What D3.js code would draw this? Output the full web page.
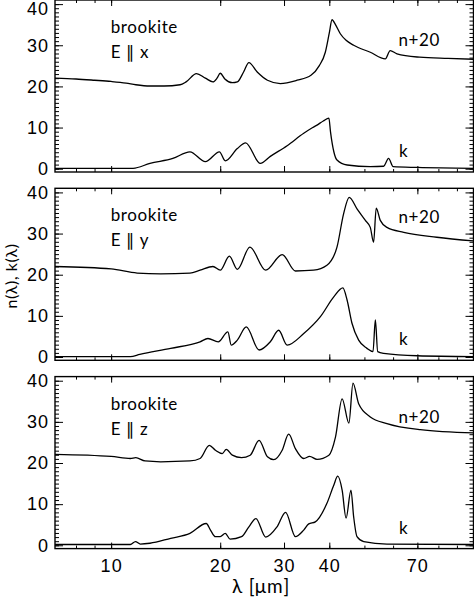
<!DOCTYPE html>
<html>
<head>
<meta charset="utf-8">
<script src="https://cdn.jsdelivr.net/npm/d3@7"></script>
<style>
  body { margin: 0; background: #fff; }
  svg { display: block; font-family: Lato, "DejaVu Sans", sans-serif; }
  .tick line { stroke: #000; stroke-width: 1; }
</style>
</head>
<body>
<div id="chart"></div>
<script>
// curves: [lambda (um), value]
const nX = [[7.0,22.0],[8,21.8],[9,21.5],[10,21.2],[11,20.8],[11.7,20.4],[12.8,20.1],[14,20.1],[15.5,20.4],[16.1,21.1],
  [17.2,23.1],[18.2,22.0],[19.1,21.1],[19.6,22.0],[20.0,23.2],[20.6,21.8],[21.6,20.9],[22.3,21.1],[23.2,23.5],[24.0,25.8],
  [25.3,23.5],[27,21.5],[29.3,20.7],[32.6,21.5],[35.6,22.7],[37.5,25],[39,28.3],[40.0,33],[40.7,36.2],[41.6,35.0],
  [42.9,32.8],[44.5,31.2],[46.7,30],[51.9,28.3],[57.1,26.7],[58.9,28.7],[61.5,27.9],[71,27.1],[85,26.8],[100,26.6]];
const kX = [[7.0,0.1],[11.5,0.1],[12.8,1.3],[14.8,2.5],[16.5,4.1],[18.2,1.7],[19.9,4.1],[20.65,1.9],[22.3,4.9],[23.5,6.3],
  [25.8,1.3],[27.5,3.0],[30.6,5.6],[34.0,8.6],[36.0,10.0],[37.0,10.6],[38.5,11.6],[39.9,12.3],[40.3,9],[41.2,4],[42.0,2.1],
  [44.8,0.9],[51.9,0.5],[56.5,0.6],[58.3,2.5],[60.0,0.5],[70,0.3],[100,0.1]];
const nY = [[7.0,22.0],[10,21.4],[11.8,20.4],[13.7,20.2],[16.5,20.4],[17.6,21.1],[19.1,22.0],[20.0,21.1],[21.2,24.5],[22.3,21.3],
  [24.15,26.7],[26.7,21.1],[29.65,24.9],[32.25,20.9],[36.2,21.1],[39.4,22.3],[42.0,26.7],[43.8,34.8],[45.4,38.8],[47.7,36],
  [50.3,33.2],[51.9,31.5],[53.0,27.9],[53.9,36.2],[55.3,33.2],[57.7,31.5],[64.2,30.3],[79.2,29.1],[100,28.2]];
const kY = [[7.0,0.1],[11.3,0.1],[12.0,0.65],[14.6,2.1],[17.6,3.7],[18.5,4.5],[19.75,3.7],[21.0,6.1],[21.45,2.9],[22.3,4.1],
  [23.6,7.3],[25.6,1.7],[27.5,3.7],[29.0,6.5],[30.6,2.9],[34.0,5.7],[37.8,9.8],[41.15,14.6],[43.6,16.8],[44.8,13.8],
  [46.2,8.2],[48.2,4.1],[50.8,2.1],[52.8,1.3],[53.6,9.0],[54.4,1.3],[56.5,0.9],[70,0.3],[100,0.1]];
const nZ = [[7.0,22.1],[10,21.6],[11.3,21.1],[11.7,21.3],[12.4,20.5],[13.7,20.3],[16.5,20.5],[17.6,21.1],[18.66,24.3],[19.4,23.1],
  [20.26,22.3],[20.78,23.3],[21.6,21.9],[22.9,21.3],[24.2,21.9],[25.6,25.5],[27.0,21.5],[28.1,20.8],[29.65,23.1],[30.9,27.0],
  [32.25,23.5],[34.0,21.1],[35.3,21.6],[37.0,20.9],[39.9,21.9],[41.6,26.3],[43.4,35.6],[45.3,29.7],[46.5,39.4],[48.2,34.4],
  [51.9,31.2],[57.7,29.6],[71.3,28.1],[100,27.3]];
const kZ = [[7.0,0.2],[11.3,0.2],[11.67,0.9],[12.04,0.3],[12.8,0.5],[14.6,1.7],[16.5,2.9],[18.3,5.3],[18.8,3.7],[19.4,2.1],
  [20.0,2.1],[20.65,2.9],[21.3,1.5],[22.9,2.1],[24.0,4.5],[25.1,6.5],[26.7,2.0],[28.7,4.5],[30.3,8.0],[32.25,2.1],
  [34.0,3.7],[35.1,5.2],[36.6,5.7],[39.4,10.2],[41.15,14.6],[42.2,16.8],[43.4,13.4],[44.5,6.6],[45.9,13.4],[46.7,6.9],
  [47.7,2.1],[49.8,0.9],[57.7,0.3],[100,0.2]];

const panelAxes = ['x', 'y', 'z'];
const nCurves = [nX, nY, nZ];
const kCurves = [kX, kY, kZ];
const xTicks = [8, 9, 10, 20, 30, 40, 50, 60, 70, 80, 90];
const xLabelTicks = [10, 20, 30, 40, 70];
const yMajor = [0, 10, 20, 30, 40];
const yMinor = d3.range(0, 41);

const W = 474, H = 598;
const left = 55, right = 473.5, panelH = 172, panelStep = 188.3;
const nLabelDy = [46, 35, 46];

const x = d3.scaleLog().domain([7, 100]).range([left, right]);

const svg = d3.select('#chart').append('svg')
  .attr('width', W)
  .attr('height', H);

panelAxes.forEach((ax, i) => {
  const top = i * panelStep;
  const y = d3.scaleLinear().domain([-0.8, 41]).range([top + panelH, top]);
  const g = svg.append('g');

  // y ticks, both sides, pointing inward
  g.append('g').attr('transform', `translate(${left},0)`)
    .call(d3.axisLeft(y).tickValues(yMinor).tickSize(-4).tickFormat(''));
  g.append('g').attr('transform', `translate(${left},0)`)
    .call(d3.axisLeft(y).tickValues(yMajor).tickSize(-8).tickPadding(6))
    .call(a => a.selectAll('text')
      .attr('font-size', 18).attr('letter-spacing', 1).attr('fill', '#000')
      .attr('dy', d => (i === 0 && d === 40) ? '0.55em' : '0.32em'));
  g.append('g').attr('transform', `translate(${right},0)`)
    .call(d3.axisRight(y).tickValues(yMinor).tickSize(-4).tickFormat(''));
  g.append('g').attr('transform', `translate(${right},0)`)
    .call(d3.axisRight(y).tickValues(yMajor).tickSize(-8).tickFormat(''));

  // x ticks top and bottom
  [top + panelH, top].forEach((yy, j) => {
    const mk = j === 0 ? d3.axisBottom : d3.axisTop;
    g.append('g').attr('transform', `translate(0,${yy})`)
      .call(mk(x).tickValues(xTicks).tickSize(-3).tickFormat(''));
    g.append('g').attr('transform', `translate(0,${yy})`)
      .call(mk(x).tickValues(xLabelTicks).tickSize(-6).tickFormat(''));
  });
  if (i === 2) {
    g.append('g').attr('transform', `translate(0,${top + panelH})`)
      .call(d3.axisBottom(x).tickValues(xLabelTicks).tickSize(0).tickPadding(11).tickFormat(d3.format('d')))
      .call(a => a.selectAll('text').attr('font-size', 18).attr('letter-spacing', 1).attr('fill', '#000'));
  }
  g.selectAll('.domain').remove();

  g.append('rect')
    .attr('x', left).attr('y', top)
    .attr('width', right - left).attr('height', panelH)
    .attr('fill', 'none').attr('stroke', '#000').attr('stroke-width', 1.4);

  const line = d3.line()
    .x(d => x(d[0]))
    .y(d => y(d[1]))
    .curve(d3.curveMonotoneX);

  [nCurves[i], kCurves[i]].forEach(c => {
    g.append('path')
      .datum(c)
      .attr('d', line)
      .attr('fill', 'none')
      .attr('stroke', '#000')
      .attr('stroke-width', 1.3);
  });

  const label = (tx, ty, s) => g.append('text')
    .attr('x', tx).attr('y', ty)
    .attr('font-size', 17).attr('letter-spacing', 0.6)
    .text(s);
  label(110.7, top + 33, 'brookite');
  label(110.7, top + 58, 'E  \u2225  ' + ax);
  label(398.5, top + nLabelDy[i], 'n+20');
  label(399, top + 157, 'k');
});

svg.append('text')
  .attr('transform', 'translate(17,276) rotate(-90)')
  .attr('text-anchor', 'middle')
  .attr('font-size', 16)
  .attr('letter-spacing', 0.6)
  .text('n(\u03bb), k(\u03bb)');

svg.append('text')
  .attr('x', 261).attr('y', 593)
  .attr('text-anchor', 'middle')
  .attr('font-size', 19)
  .attr('letter-spacing', 0.8)
  .text('\u03bb [\u03bcm]');
</script>
</body>
</html>
